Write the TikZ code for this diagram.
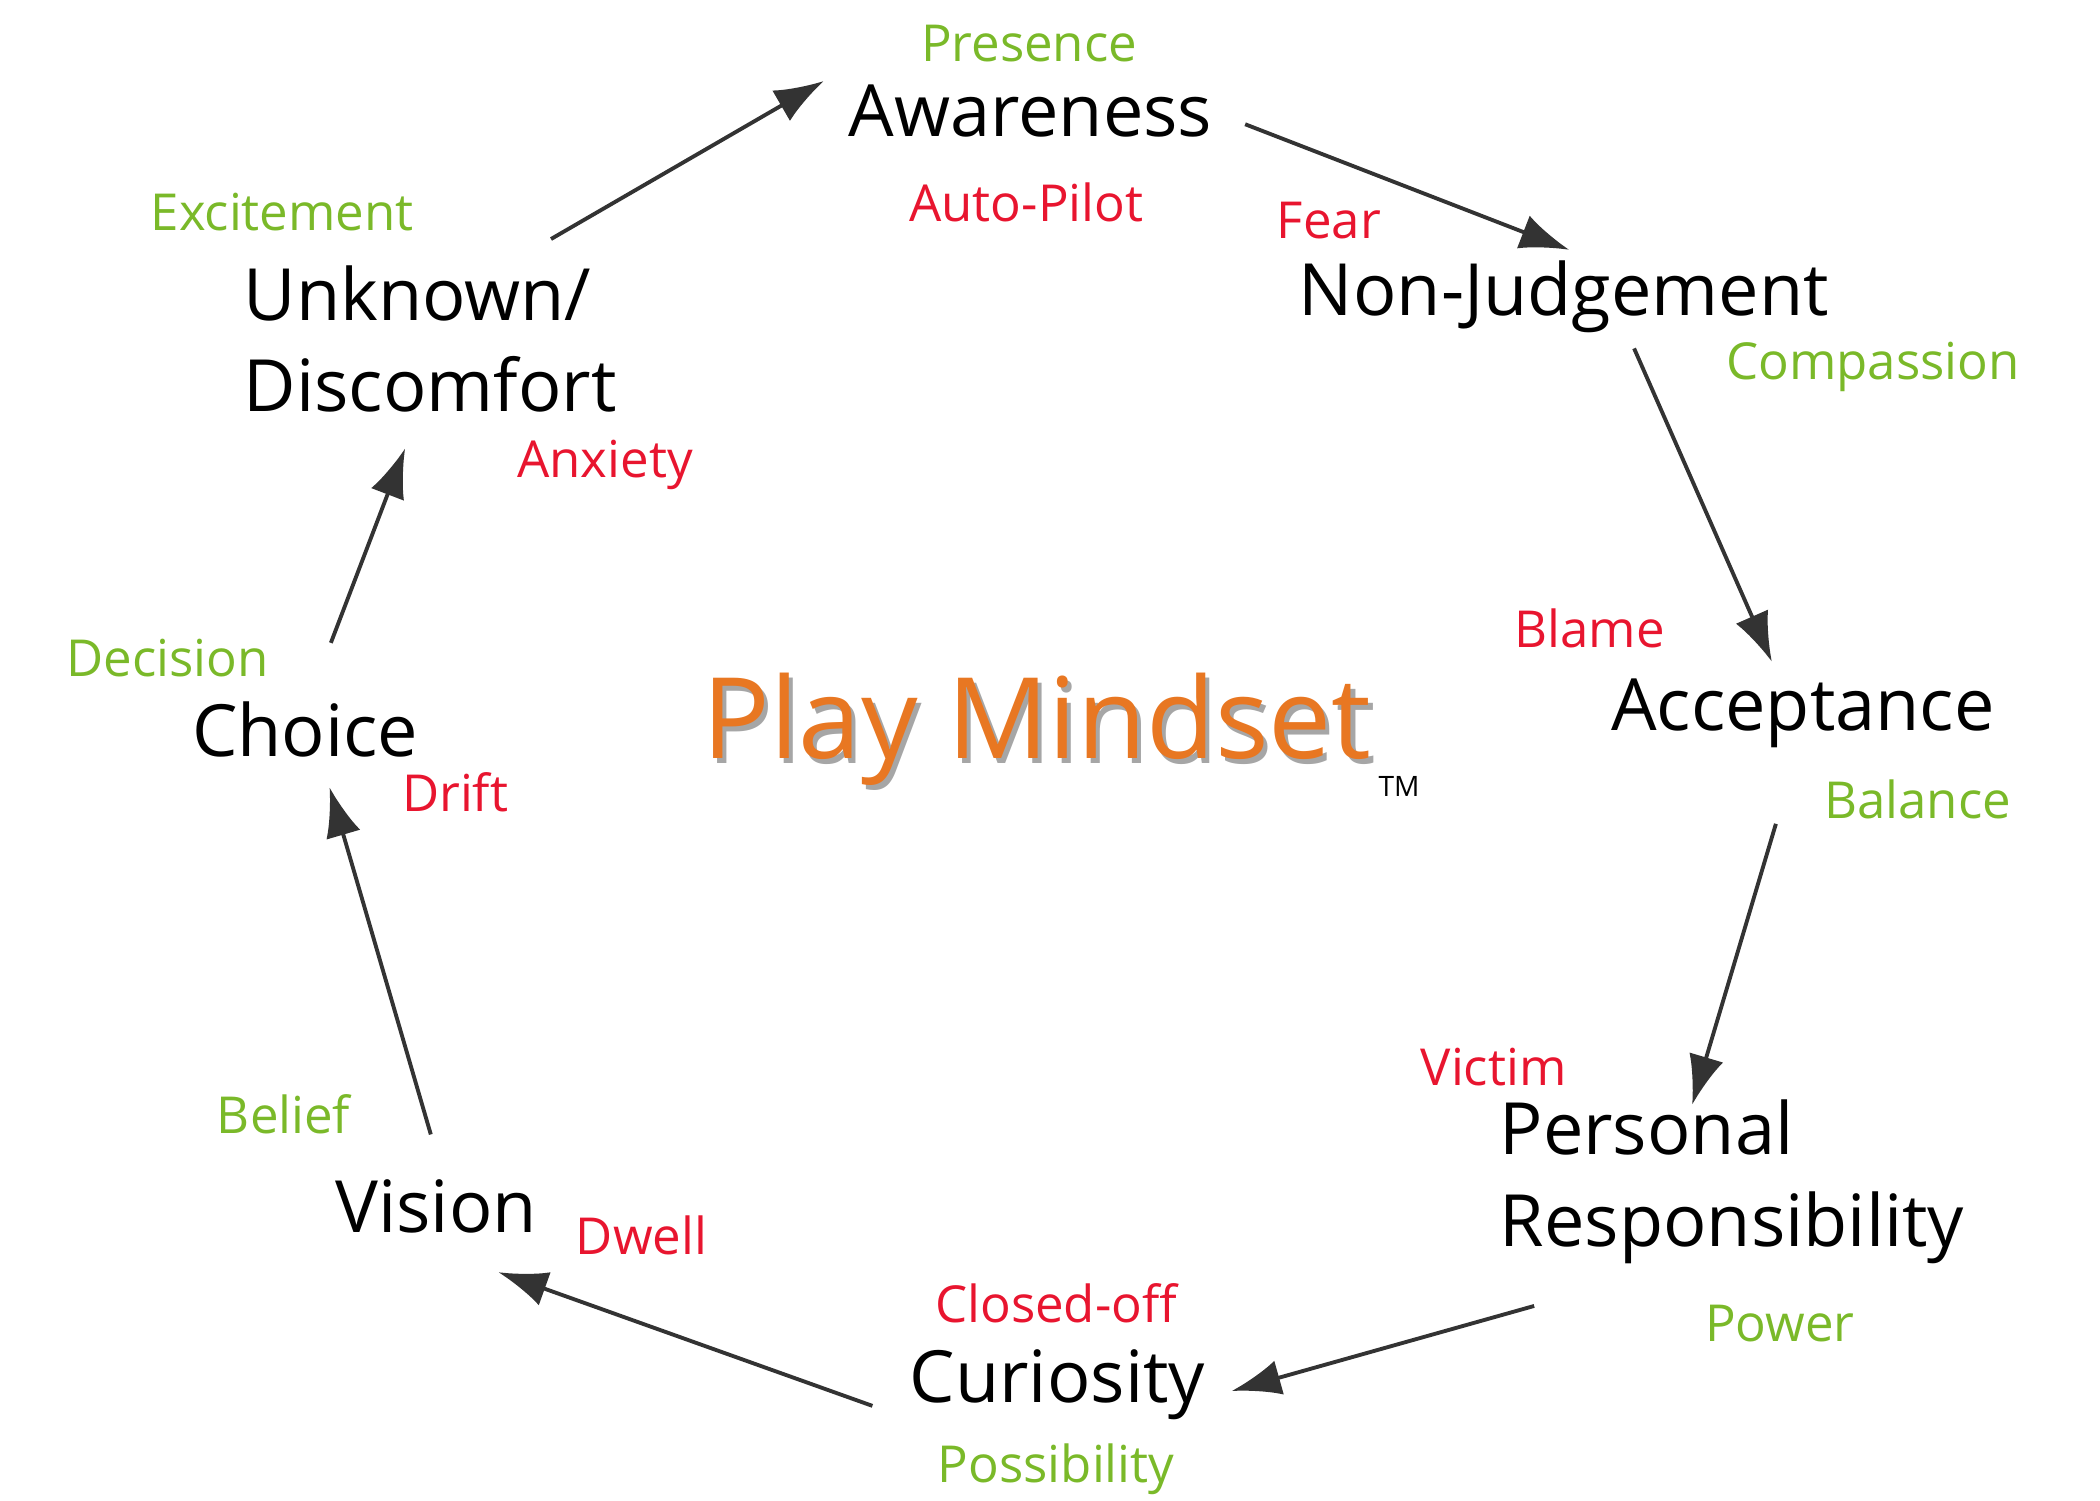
\documentclass[tikz,border=0pt]{standalone}
\usepackage{fontspec}
\setmainfont{Open Sans}
\usetikzlibrary{arrows.meta}
\definecolor{hopegreen}{HTML}{7AB929}
\definecolor{fearred}{HTML}{E8152F}
\definecolor{playorange}{HTML}{E87722}
\definecolor{arrowgray}{HTML}{333333}
\tikzset{
  stage/.style={font=\fontsize{20.5}{26}\selectfont, text=black, inner sep=0pt},
  good/.style={font=\fontsize{14.5}{18}\selectfont, text=hopegreen, inner sep=0pt},
  bad/.style={font=\fontsize{14.5}{18}\selectfont, text=fearred, inner sep=0pt},
  cycle arrow/.style={draw=arrowgray, line width=1.1pt, -{Latex[length=14pt,width=10pt]}},
  title/.style={inner sep=0pt, font=\fontsize{32}{38}\selectfont},
}
\begin{document}
\begin{tikzpicture}[x=0.0135cm,y=-0.0135cm]
\useasboundingbox (0,0) rectangle (1555,1111);
%% stages
\node (aware) at (763,82) [stage] {Awareness};
\node (nonjudge) at (1158,220) [stage] {Non-Judgement};
\node (accept) at (1335,528) [stage] {Acceptance};
\node (personal) at (1110,875) [stage,anchor=west,align=left] {Personal\\Responsibility};
\node (curious) at (783,1025) [stage] {Curiosity};
\node (vision) at (323,893) [stage] {Vision};
\node (choice) at (226,540) [stage] {Choice};
\node (unknown) at (180,251) [stage,anchor=west,align=left] {Unknown/\\Discomfort};
%% labels
\node (presence) at (762,32) [good] {Presence};
\node (autopilot) at (760,150) [bad] {Auto-Pilot};
\node (fear) at (984,163) [bad] {Fear};
\node (compassion) at (1387,272) [good] {Compassion};
\node (blame) at (1177,465) [bad] {Blame};
\node (balance) at (1420,592) [good] {Balance};
\node (victim) at (1106,790) [bad] {Victim};
\node (power) at (1318,980) [good] {Power};
\node (closed) at (782,965) [bad] {Closed-off};
\node (possible) at (782,1088) [good] {Possibility};
\node (belief) at (210,825) [good] {Belief};
\node (dwell) at (475,915) [bad] {Dwell};
\node (decision) at (124,487) [good] {Decision};
\node (drift) at (337,587) [bad] {Drift};
\node (excite) at (209,157) [good] {Excitement};
\node (anxiety) at (448,344) [bad] {Anxiety};
%% title
\node (shadow) at (771,544) [title, text=black!35] {Play Mindset};
\node (title) at (768,540) [title, text=playorange] {Play Mindset};
\node (tm) at (1036,582) [inner sep=0pt, font=\fontsize{8}{9}\selectfont] {TM};
%% cycle
\coordinate (a1) at (408,177); \coordinate (b1) at (610,60);
\coordinate (a2) at (922,92);  \coordinate (b2) at (1162,185);
\coordinate (a3) at (1210,258); \coordinate (b3) at (1312,490);
\coordinate (a4) at (1315,610); \coordinate (b4) at (1253,818);
\coordinate (a5) at (1136,967); \coordinate (b5) at (912,1030);
\coordinate (a6) at (646,1041); \coordinate (b6) at (369,942);
\coordinate (a7) at (319,840); \coordinate (b7) at (244,583);
\coordinate (a8) at (245,476); \coordinate (b8) at (300,332);
\foreach \i in {1,...,8}
  \draw [cycle arrow] (a\i) -- (b\i);
\end{tikzpicture}
\end{document}
